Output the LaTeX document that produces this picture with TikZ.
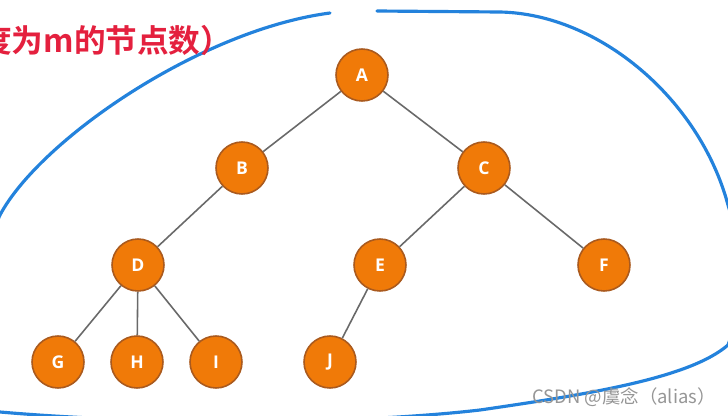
\documentclass[tikz,border=0pt]{standalone}
\usepackage{fontspec}
\setsansfont{Open Sans}
\newfontfamily\cjk{Noto Sans CJK SC}
\newfontfamily\cjkbold{Noto Sans CJK SC Bold}
\definecolor{knotfill}{RGB}{240,122,8}
\definecolor{knotline}{RGB}{170,90,30}
\definecolor{branchgray}{RGB}{105,105,105}
\definecolor{loopblue}{RGB}{35,130,220}
\definecolor{titlered}{RGB}{228,32,62}
\definecolor{markgray}{RGB}{150,150,150}
\tikzset{
  knot/.style={circle,fill=knotfill,draw=knotline,line width=0.9pt,minimum size=1.04cm,inner sep=0pt,
    text=white,font=\sffamily\bfseries\fontsize{10}{12}\selectfont},
  branch/.style={draw=branchgray,line width=0.9pt}
}
\begin{document}
\begin{tikzpicture}[x=0.02cm,y=-0.02cm]
\useasboundingbox[fill=white] (0,0) rectangle (728,416);

\draw[loopblue,line width=1.8pt,line cap=round] (377,11) -- (500,12)
  .. controls (600,14) and (700,100) .. (728,205)
  .. controls (745,260) and (745,300) .. (728,345)
  .. controls (690,378) and (590,394) .. (480,410)
  .. controls (350,425) and (150,425) .. (0,412)
  .. controls (-40,400) and (-30,280) .. (0,215)
  .. controls (40,140) and (200,30) .. (330,13);

\node[anchor=west,inner sep=0pt,text=titlered,font=\cjkbold\fontsize{18}{21}\selectfont] (title) at (-20,40) {度为m的节点数）};

\node[knot] (a) at (362,75) {A};
\node[knot] (b) at (242,168) {B};
\node[knot] (c) at (484,168) {C};
\node[knot] (d) at (138,265) {D};
\node[knot] (e) at (380,265) {E};
\node[knot] (f) at (604,265) {F};
\node[knot] (g) at (58,362) {G};
\node[knot] (h) at (137,362) {H};
\node[knot] (i) at (216,362) {I};
\node[knot] (j) at (330,362) {J};

\draw[branch] (a) -- (b);
\draw[branch] (a) -- (c);
\draw[branch] (b) -- (d);
\draw[branch] (c) -- (e);
\draw[branch] (c) -- (f);
\draw[branch] (d) -- (g);
\draw[branch] (d) -- (h);
\draw[branch] (d) -- (i);
\draw[branch] (e) -- (j);

\node[anchor=east,inner sep=0pt,text=markgray,font=\cjk\fontsize{10.5}{12}\selectfont] (mark) at (716,397) {CSDN @虞念（alias）};
\end{tikzpicture}
\end{document}
